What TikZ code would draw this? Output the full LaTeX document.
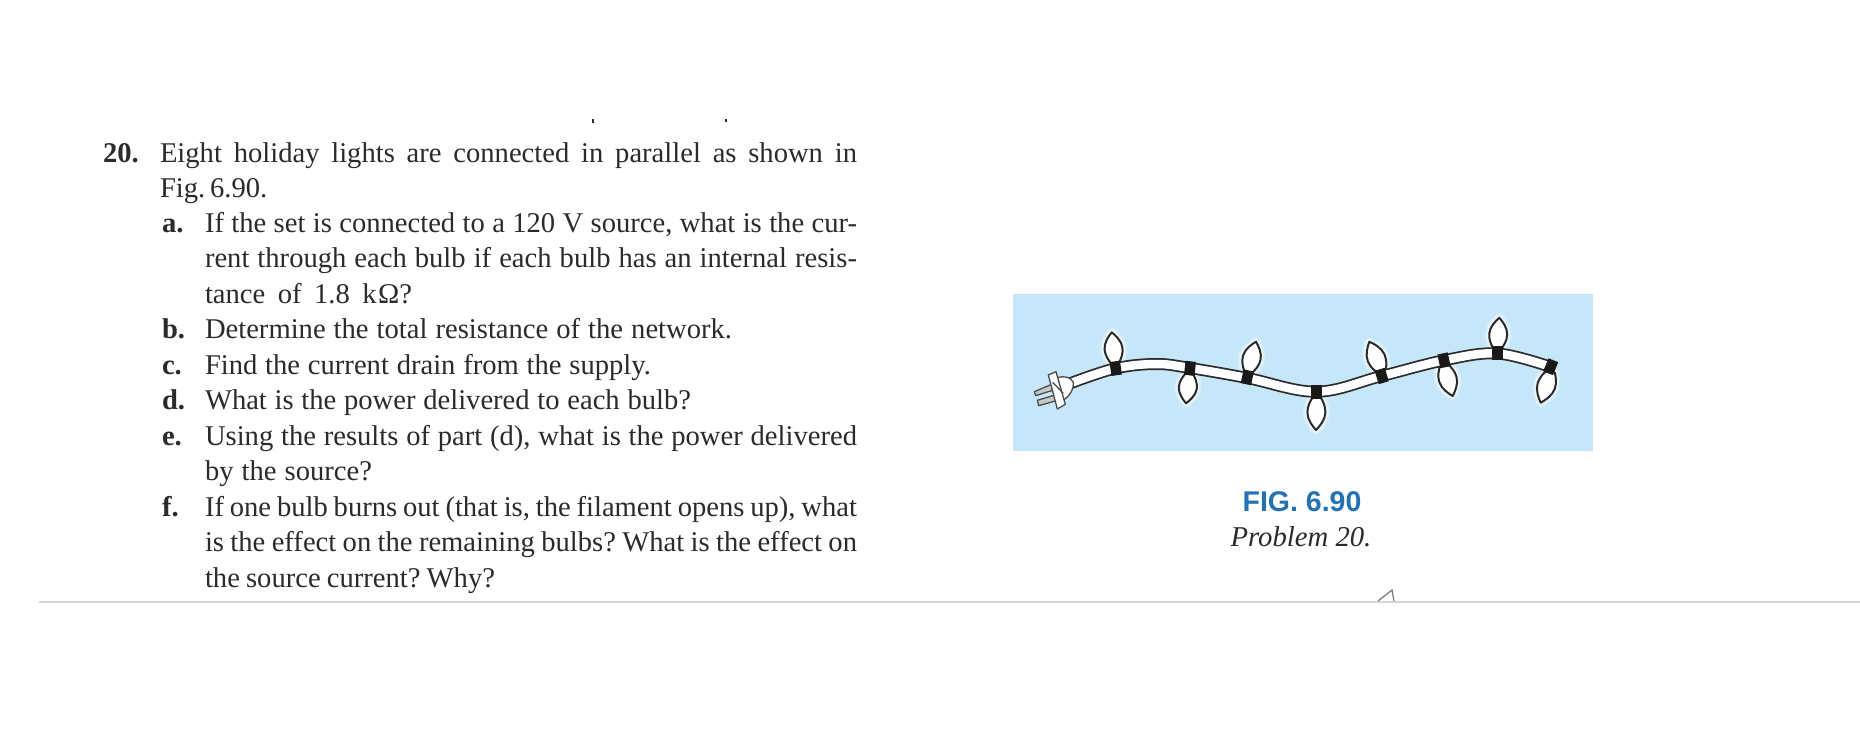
\documentclass[tikz,border=0pt]{standalone}
\usepackage{fontspec}
\setmainfont{Liberation Serif}
\newfontfamily\capfont{Liberation Sans}
\definecolor{panel}{HTML}{C5E7F9}
\definecolor{ink}{HTML}{2B2B2B}
\definecolor{figblue}{HTML}{2372B4}
\definecolor{rulegray}{HTML}{D6D6D6}
\tikzset{
  bodytext/.style={anchor=base west,inner sep=0pt,outer sep=0pt,text=ink,font=\fontsize{28.6}{30}\selectfont\frenchspacing},
  socket/.style={fill=black!90,draw=none,minimum width=10.5pt,minimum height=14pt,inner sep=0pt,outer sep=0pt},
  bulbline/.style={draw=ink,line width=2pt,fill=white,line join=round},
  plugline/.style={draw=ink!85,line width=1.3pt,fill=white,line join=round},
  prongline/.style={draw=ink!85,line width=1.3pt,fill=gray!45,line join=round}
}
\newcommand{\txtline}[5]{\node[bodytext] (#1) at (#2,#3) {\makebox[#4pt][s]{#5}};}
\newcommand{\txtfree}[4]{\node[bodytext] (#1) at (#2,#3) {#4};}
\newcommand{\bulbpath}{(-1,-4) .. controls (.1*\len,-6.5) and (.24*\len,-9) .. (.45*\len,-9) .. controls (.68*\len,-9) and (.9*\len,-3) .. (\len,0) .. controls (.9*\len,3) and (.68*\len,9) .. (.45*\len,9) .. controls (.24*\len,9) and (.1*\len,6.5) .. (-1,4) -- cycle}
\begin{document}
\begin{tikzpicture}[x=1pt,y=-1pt]
\useasboundingbox (0,0) rectangle (1860,753);
\fill[white] (0,0) rectangle (1860,753);
% text
\txtfree{n20}{103}{162}{\textbf{20.}}
\txtline{l1}{160}{162}{697}{Eight holiday lights are connected in parallel as shown in}
\txtline{l2}{160}{197}{97}{Fig. 6.90.}
\txtfree{la}{162}{232}{\textbf{a.}}
\txtline{l3}{205}{232}{652}{If the set is connected to a 120 V source, what is the cur-}
\txtline{l4}{205}{267}{652}{rent through each bulb if each bulb has an internal resis-}
\txtline{l5}{205}{303}{207}{tance of 1.8 k$\mskip1mu$Ω?}
\txtfree{lb}{162}{338}{\textbf{b.}}
\txtline{l6}{205}{338}{527}{Determine the total resistance of the network.}
\txtfree{lc}{162}{374}{\textbf{c.}}
\txtline{l7}{205}{374}{446}{Find the current drain from the supply.}
\txtfree{ld}{162}{409}{\textbf{d.}}
\txtline{l8}{205}{409}{486}{What is the power delivered to each bulb?}
\txtfree{le}{162}{445}{\textbf{e.}}
\txtline{l9}{205}{445}{652}{Using the results of part (d), what is the power delivered}
\txtline{l10}{205}{480}{167}{by the source?}
\txtfree{lf}{162}{516}{\textbf{f.}}
\txtline{l11}{205}{516}{652}{If one bulb burns out (that is, the filament opens up), what}
\txtline{l12}{205}{551}{652}{is the effect on the remaining bulbs? What is the effect on}
\txtline{l13}{205}{587}{290}{the source current? Why?}
% scan remnants
\fill[ink] (591.5,119) rectangle (593.5,123);
\fill[ink] (724.5,119) rectangle (726.5,122);
\draw[rulegray,line width=1.1pt] (39,602) -- (1860,602);
\draw[gray,line width=1.3pt] (1378,601) -- (1392,590) -- (1394,601);
% panel
\fill[panel] (1013,294) rectangle (1593,451);
% bulbs
\foreach \bx/\by/\tx/\ty in {1115/362/1111.7/332.3,1189.3/375/1186/403.3,1248.3/371/1256/341.7,1316.7/398.3/1316/430,1381.7/371/1369.3/341.7,1444/366/1452.7/396,1497.3/347.7/1499.3/317.7,1550.7/372.3/1540.7/402.7}{
  \pgfmathsetmacro{\ang}{atan2(\by-\ty,\tx-\bx)}
  \pgfmathsetmacro{\len}{veclen(\tx-\bx,\ty-\by)}
  \begin{scope}[shift={(\bx,\by)},rotate=\ang]
    \path[draw=white,opacity=.3,line width=9pt,line join=round] \bulbpath;
    \path[draw=white,opacity=.55,line width=5pt,line join=round] \bulbpath;
    \path[bulbline] \bulbpath;
  \end{scope}
}
% cord
\def\cordpath{plot[smooth,tension=.6] coordinates {(1071,383) (1115.7,368.3) (1156.7,364) (1190,368) (1247.3,378) (1316.7,391.7) (1381.7,376) (1444,360.3) (1497.3,353.5) (1551,367)}}
\draw[ink,line width=12pt] \cordpath;
\draw[white,line width=8.5pt] \cordpath;
% sockets
\node[socket,rotate=8] (s1) at (1115.7,368.3) {};
\node[socket,rotate=-6] (s2) at (1190,368.3) {};
\node[socket,rotate=-12] (s3) at (1247.3,377.3) {};
\node[socket,rotate=0] (s4) at (1316.7,391.7) {};
\node[socket,rotate=17] (s5) at (1381.7,376) {};
\node[socket,rotate=12] (s6) at (1444,360.3) {};
\node[socket,rotate=0] (s7) at (1497.3,353) {};
\node[socket,rotate=-22] (s8) at (1550.7,366.7) {};
% plug
\begin{scope}[shift={(1000,285)},x=.3333pt,y=-.3333pt]
  \draw[prongline] (155,298) -- (103,320) -- (107,332) -- (158,316) -- cycle;
  \draw[prongline] (165,330) -- (112,346) -- (116,362) -- (170,347) -- cycle;
  \draw[plugline] (172,278) .. controls (195,272) and (212,276) .. (220,292) .. controls (222,312) and (208,337) .. (186,347) .. controls (178,325) and (172,300) .. (172,278) -- cycle;
  \draw[plugline] (145,270) -- (168,260) -- (196,358) -- (172,372) -- cycle;
  \draw[plugline] (158,292) -- (190,325);
\end{scope}
% caption
\node[anchor=base,inner sep=0pt,text=figblue,font=\capfont\bfseries\fontsize{28.5}{31}\selectfont] (figcap) at (1302,511) {FIG. 6.90};
\node[anchor=base,inner sep=0pt,text=ink,font=\itshape\fontsize{28.7}{30}\selectfont] (figsub) at (1301,546) {Problem 20.};
\end{tikzpicture}
\end{document}
